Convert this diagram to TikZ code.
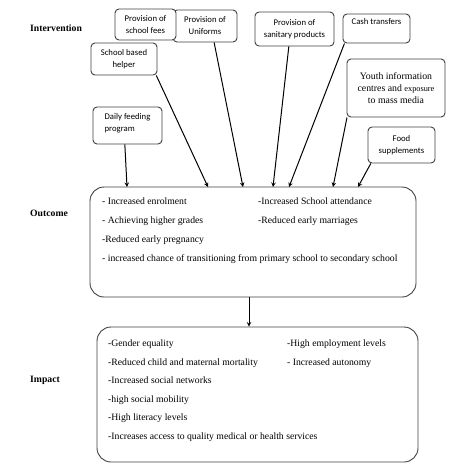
\documentclass[tikz,border=0pt]{standalone}
\usepackage{fontspec}
\setmainfont{Liberation Serif}
\newfontfamily\boxfont{Carlito}

\begin{document}
\begin{tikzpicture}[x=1pt, y=-1pt, >=stealth,
interbox/.style={rectangle, rounded corners=4pt, draw=black!75, fill=white, line width=0.9pt, align=center, inner sep=2pt, font=\boxfont\fontsize{8.7}{12}\selectfont},
stagebox/.style={rectangle, rounded corners=14pt, draw=black!75, line width=0.9pt},
stagelabel/.style={anchor=west, inner sep=0pt, font=\bfseries\fontsize{9.7}{11}\selectfont},
listtext/.style={anchor=base west, inner sep=0pt, font=\fontsize{9.7}{11}\selectfont},
]
\useasboundingbox (0,0) rectangle (474,474);

%Labels
\node[stagelabel]   (lint)   at (30,28)     {Intervention};
\node[stagelabel]   (lout)   at (30,213)    {Outcome};
\node[stagelabel]   (limp)   at (30,380)    {Impact};

%Nodes
\node[interbox, minimum width=64pt, minimum height=32pt]   (unif)    at (205,26)      {Provision of\\Uniforms};
\node[interbox, minimum width=61pt, minimum height=31pt]   (fees)    at (145.5,24.5)  {Provision of\\school fees};
\node[interbox, minimum width=79pt, minimum height=34pt]   (sanit)   at (294.5,29)    {Provision of\\sanitary products};
\node[interbox, minimum width=67pt, minimum height=29pt]   (cash)    at (376.5,28.5)  {Cash transfers\\[3pt]};
\node[interbox, minimum width=66pt, minimum height=32pt]   (helper)  at (124,59)      {School based\\helper};
\node[interbox, minimum width=98pt, minimum height=58pt, font=\fontsize{9.8}{12}\selectfont]   (youth)   at (396,88)  {Youth information\\centres and {\fontsize{8.3}{12}\selectfont exposure}\\to mass media};
\node[interbox, minimum width=69pt, minimum height=37pt, align=left]   (feeding) at (127.5,125.5) {Daily feeding\\program\\[-5pt]};
\node[interbox, minimum width=67pt, minimum height=36pt]   (food)    at (401.5,145)   {Food\\supplements};

\node[stagebox, minimum width=326pt, minimum height=110pt]   (outcome)   at (253,242)    {};
\node[stagebox, minimum width=321pt, minimum height=135pt]   (impact)    at (257.5,394.5) {};

%Texts
\node[listtext] (outlist) at (102,204.5) {\def\arraystretch{1.73}%
\begin{tabular}[t]{@{}p{156pt}@{}l@{}}
- Increased enrolment & -Increased School attendance\\
- Achieving higher grades & -Reduced early marriages\\
-Reduced early pregnancy & \\
\multicolumn{2}{@{}l@{}}{- increased chance of transitioning from primary school to secondary school}
\end{tabular}};
\node[listtext] (implist) at (108,346.5) {\def\arraystretch{1.69}%
\begin{tabular}[t]{@{}p{179pt}@{}l@{}}
-Gender equality & -High employment levels\\
-Reduced child and maternal mortality & - Increased autonomy\\
-Increased social networks & \\
-high social mobility & \\
-High literacy levels & \\
\multicolumn{2}{@{}l@{}}{-Increases access to quality medical or health services}
\end{tabular}};

%Ends
\coordinate (e1) at (127,187);
\coordinate (e2) at (208,187);
\coordinate (e3) at (243,187);
\coordinate (e4) at (273,187);
\coordinate (e5) at (289,187);
\coordinate (e6) at (333,187);
\coordinate (e7) at (358,187);

%Lines
\draw[->, line width=1pt] (feeding.-98) -- (e1);
\draw[->, line width=1pt] (helper.-27) -- (e2);
\draw[->, line width=1pt] (unif.-61) -- (e3);
\draw[->, line width=1pt] (sanit.-108) -- (e4);
\draw[->, line width=1pt] (cash.-155) -- (e5);
\draw[->, line width=1pt] (youth.-149) -- (e6);
\draw[->, line width=1pt] (food.-149) -- (e7);
\draw[->, line width=1pt] ([xshift=-4pt]outcome.south) -- ([xshift=-4pt]outcome.south |- impact.north);
\end{tikzpicture}
\end{document}
